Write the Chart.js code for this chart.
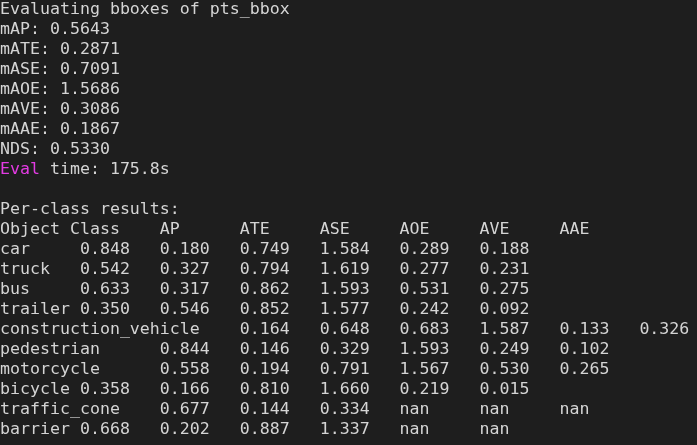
<!DOCTYPE html>
<html>
<head>
<meta charset="utf-8">
<script src="https://cdn.jsdelivr.net/npm/chart.js@4"></script>
<style>
  html, body { margin: 0; padding: 0; background: #1e1e1e; }
  #wrap { width: 697px; height: 445px; }
</style>
</head>
<body>
<div id="wrap"><canvas id="termChart"></canvas></div>
<script>
// Summary metrics
const summaryNames = ['mAP', 'mATE', 'mASE', 'mAOE', 'mAVE', 'mAAE', 'NDS'];
const summaryValues = ['0.5643', '0.2871', '0.7091', '1.5686', '0.3086', '0.1867', '0.5330'];
const evalTime = '175.8s';

// Per-class table
const headers = ['Object Class', 'AP', 'ATE', 'ASE', 'AOE', 'AVE', 'AAE'];
const classes = ['car', 'truck', 'bus', 'trailer', 'construction_vehicle', 'pedestrian',
  'motorcycle', 'bicycle', 'traffic_cone', 'barrier'];
const classValues = [
  ['0.848', '0.180', '0.749', '1.584', '0.289', '0.188'],
  ['0.542', '0.327', '0.794', '1.619', '0.277', '0.231'],
  ['0.633', '0.317', '0.862', '1.593', '0.531', '0.275'],
  ['0.350', '0.546', '0.852', '1.577', '0.242', '0.092'],
  ['0.164', '0.648', '0.683', '1.587', '0.133', '0.326'],
  ['0.844', '0.146', '0.329', '1.593', '0.249', '0.102'],
  ['0.558', '0.194', '0.791', '1.567', '0.530', '0.265'],
  ['0.358', '0.166', '0.810', '1.660', '0.219', '0.015'],
  ['0.677', '0.144', '0.334', 'nan', 'nan', 'nan'],
  ['0.668', '0.202', '0.887', '1.337', 'nan', 'nan']
];

// expand tabs to 8-column stops, like the terminal does
function expandTabs(parts) {
  let out = '';
  parts.forEach((p, i) => {
    if (i > 0) {
      const pad = 8 - (out.length % 8);
      out += ' '.repeat(pad);
    }
    out += p;
  });
  return out;
}

const lines = [];
lines.push({ text: 'Evaluating bboxes of pts_bbox' });
summaryNames.forEach((n, i) => lines.push({ text: n + ': ' + summaryValues[i] }));
lines.push({ text: ' time: ' + evalTime, prefix: 'Eval' });
lines.push({ text: '' });
lines.push({ text: 'Per-class results:' });
lines.push({ text: expandTabs(headers) });
classes.forEach((c, i) => lines.push({ text: expandTabs([c].concat(classValues[i])) }));

const terminalText = {
  id: 'terminalText',
  afterDraw(chart) {
    const ctx = chart.ctx;
    ctx.save();
    ctx.font = '16.6px "DejaVu Sans Mono"';
    ctx.textBaseline = 'middle';
    const charW = ctx.measureText('M').width;
    lines.forEach((ln, i) => {
      const y = 10 + i * 20;
      let x = 0;
      if (ln.prefix) {
        ctx.fillStyle = '#e33be3';
        ctx.fillText(ln.prefix, x, y);
        x += charW * ln.prefix.length;
      }
      ctx.fillStyle = '#d4d4d4';
      ctx.fillText(ln.text, x, y);
    });
    ctx.restore();
  }
};

new Chart(document.getElementById('termChart'), {
  type: 'bar',
  data: { labels: [], datasets: [] },
  options: {
    responsive: true,
    maintainAspectRatio: false,
    animation: false,
    plugins: { legend: { display: false }, tooltip: { enabled: false } },
    scales: { x: { display: false }, y: { display: false } }
  },
  plugins: [terminalText]
});
</script>
</body>
</html>
